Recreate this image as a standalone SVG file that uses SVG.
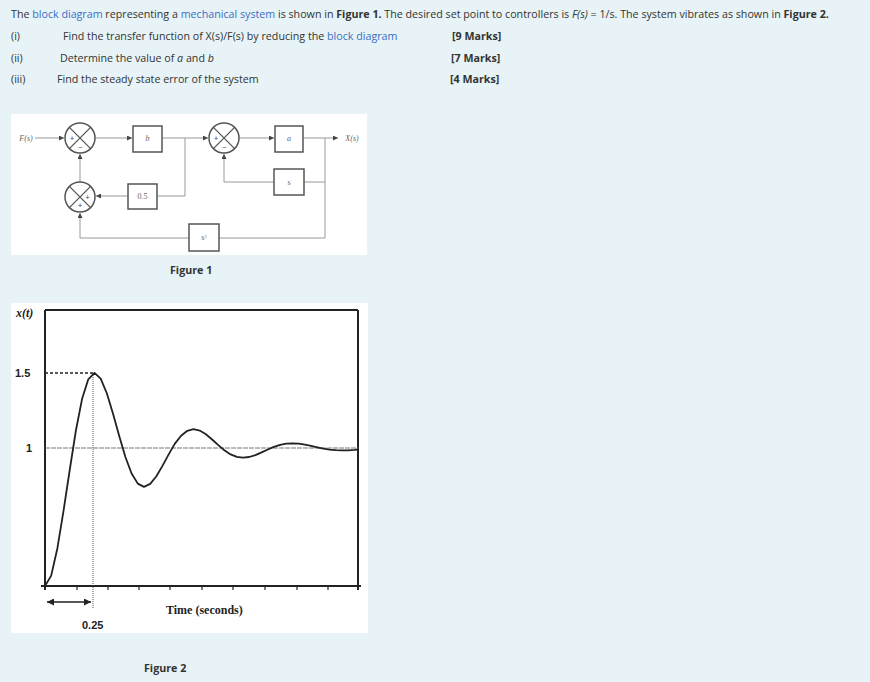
<svg xmlns="http://www.w3.org/2000/svg" width="870" height="682" viewBox="0 0 870 682">
<defs>
<marker id="ah" viewBox="0 0 6 6" refX="6" refY="3" markerWidth="5" markerHeight="5" markerUnits="userSpaceOnUse" orient="auto"><path d="M0,0 L6,3 L0,6 z" fill="#444"/></marker>
<marker id="ahb" viewBox="0 0 8 8" refX="8" refY="4" markerWidth="7" markerHeight="7" markerUnits="userSpaceOnUse" orient="auto-start-reverse"><path d="M0,0 L8,4 L0,8 z" fill="#222"/></marker>
</defs>
<style>
.t{font-family:"Open Sans","Liberation Sans",sans-serif;font-size:10.7px;fill:#333}
.lk{fill:#3a6fc4}
.b{font-weight:bold}
.i{font-style:italic}
.w{stroke:#999;stroke-width:1;fill:none}
.blk{fill:#fff;stroke:#555;stroke-width:1.5}
.sum{fill:#fff;stroke:#555;stroke-width:1.5}
.x{stroke:#555;stroke-width:1.3}
.bl{font-family:"Liberation Serif",serif;font-size:8px;fill:#666;text-anchor:middle}
.sg{font-family:"Liberation Sans",sans-serif;font-size:7px;fill:#333;text-anchor:middle}
.ax{stroke:#222;stroke-width:2;fill:none}
.gl{font-family:"Liberation Sans",sans-serif;font-size:11px;font-weight:bold;fill:#222}
</style>
<rect width="870" height="682" fill="#e7f3f6"/>
<g id="text">
<text class="t" x="11" y="18">The <tspan class="lk">block diagram</tspan> representing a <tspan class="lk">mechanical system</tspan> is shown in <tspan class="b">Figure 1.</tspan> The desired set point to controllers is <tspan class="i">F(s)</tspan> = 1/s. The system vibrates as shown in <tspan class="b">Figure 2.</tspan></text>
<text class="t" x="11" y="40">(i)</text>
<text class="t" x="63" y="40">Find the transfer function of X(s)/F(s) by reducing the <tspan class="lk">block diagram</tspan></text>
<text class="t b" x="452" y="40">[9 Marks]</text>
<text class="t" x="11" y="62">(ii)</text>
<text class="t" x="60" y="62">Determine the value of <tspan class="i">a</tspan> and <tspan class="i">b</tspan></text>
<text class="t b" x="451" y="62">[7 Marks]</text>
<text class="t" x="11" y="83">(iii)</text>
<text class="t" x="57" y="83">Find the steady state error of the system</text>
<text class="t b" x="450" y="83">[4 Marks]</text>
<text class="t b" x="170" y="274">Figure 1</text>
<text class="t b" x="144" y="672">Figure 2</text>
</g>
<rect x="11" y="114" width="356" height="141" fill="#fff"/>
<rect x="11" y="303" width="357" height="330" fill="#fff"/>
<g id="connectors">
<path class="w" d="M35,138 H64" marker-end="url(#ah)"/>
<path class="w" d="M95,138 H132" marker-end="url(#ah)"/>
<path class="w" d="M162,138 H208" marker-end="url(#ah)"/>
<path class="w" d="M185,138 V196 H157"/>
<path class="w" d="M128,196 H96" marker-end="url(#ah)"/>
<path class="w" d="M80,182 V154" marker-end="url(#ah)"/>
<path class="w" d="M239,138 H274" marker-end="url(#ah)"/>
<path class="w" d="M303,138 H338" marker-end="url(#ah)"/>
<path class="w" d="M325,138 V238 H219"/>
<path class="w" d="M325,182 H304"/>
<path class="w" d="M274,182 H224 V154" marker-end="url(#ah)"/>
<path class="w" d="M189,238 H80 V213" marker-end="url(#ah)"/>
</g>
<g id="Fs"><text class="bl i" x="26" y="141">F(s)</text></g>
<g id="Xs"><text class="bl i" x="352" y="141">X(s)</text></g>
<g id="sum1">
<circle class="sum" cx="80" cy="138" r="15"/>
<path class="x" d="M69.4,127.4 L90.6,148.6 M90.6,127.4 L69.4,148.6"/>
<text class="sg" x="72" y="141">+</text><text class="sg" x="80" y="149.5">−</text>
</g>
<g id="sum2">
<circle class="sum" cx="80" cy="197" r="15"/>
<path class="x" d="M69.4,186.4 L90.6,207.6 M90.6,186.4 L69.4,207.6"/>
<text class="sg" x="87.5" y="200">+</text><text class="sg" x="80" y="208">+</text>
</g>
<g id="sum3">
<circle class="sum" cx="224" cy="138" r="15"/>
<path class="x" d="M213.4,127.4 L234.6,148.6 M234.6,127.4 L213.4,148.6"/>
<text class="sg" x="216" y="141">+</text><text class="sg" x="224" y="149.5">−</text>
</g>
<g id="blk_b"><rect class="blk" x="133" y="126" width="29" height="26"/><text class="bl i" x="147.5" y="141">b</text></g>
<g id="blk_05"><rect class="blk" x="128" y="184" width="29" height="25"/><text class="bl" x="142.5" y="199" font-size="5.5">0.5</text></g>
<g id="blk_a"><rect class="blk" x="275" y="126" width="28" height="26"/><text class="bl i" x="289" y="141">a</text></g>
<g id="blk_s"><rect class="blk" x="274" y="169" width="30" height="26"/><text class="bl" x="289" y="185" font-size="7">s</text></g>
<g id="blk_s2"><rect class="blk" x="189" y="224" width="30" height="27"/><text class="bl" x="204" y="240" font-size="7">s<tspan dy="-2.5" font-size="4.5">2</tspan></text></g>
<g id="graph">
<text x="16" y="317" font-family="Liberation Serif,serif" font-style="italic" font-weight="bold" font-size="12" fill="#222">x(t)</text>
<path class="ax" d="M45,310 H358 M45,310 V590 M358,310 V590 M41,586 H361"/>
<path stroke="#222" stroke-width="1.2" d="M77,586 v4 M108,586 v4 M139,586 v4 M170,586 v4 M202,586 v4 M233,586 v4 M265,586 v4 M297,586 v4 M328,586 v4"/>
<path d="M45,448 H358" stroke="#777" stroke-width="1" stroke-dasharray="5,1"/>
<path d="M45,373 H93" stroke="#222" stroke-width="1.3" stroke-dasharray="3,2"/>
<path d="M93,373 V608" stroke="#555" stroke-width="1" stroke-dasharray="1,1"/>
<polyline fill="none" stroke="#222" stroke-width="1.8" stroke-linejoin="round" points="45,586 51.2,575.6 57.4,548.2 63.6,510.4 69.8,469.5 75.9,430.5 82.1,398.8 88.3,379.3 94.5,372.9 100.7,378.6 106.9,393.5 113.1,414 119.3,436.3 125.4,457 131.6,473.5 137.8,483.6 144,486.9 150.2,483.9 156.4,476.2 162.6,465.6 168.8,454.1 174.9,443.6 181.1,435.7 187.3,430.8 193.5,429.2 199.7,430.6 205.9,434.3 212.1,439.5 218.3,445.1 224.4,450.3 230.6,454.4 236.8,456.9 243,457.7 249.2,457 255.4,455.1 261.6,452.4 267.8,449.5 273.9,446.9 280.1,444.9 286.3,443.7 292.5,443.3 298.7,443.6 304.9,444.6 311.1,445.9 317.3,447.3 323.4,448.6 329.6,449.6 335.8,450.2 342,450.4 348.2,450.3 354.4,449.9 358,449.5"/>
<path d="M47,602 H91" stroke="#222" stroke-width="1.3" marker-start="url(#ahb)" marker-end="url(#ahb)"/>
<text class="gl" x="15" y="377">1.5</text>
<text class="gl" x="26" y="452">1</text>
<text class="gl" x="82" y="629">0.25</text>
<text x="166" y="614" font-family="Liberation Serif,serif" font-weight="bold" font-size="12" fill="#222">Time (seconds)</text>
</g>
</svg>
